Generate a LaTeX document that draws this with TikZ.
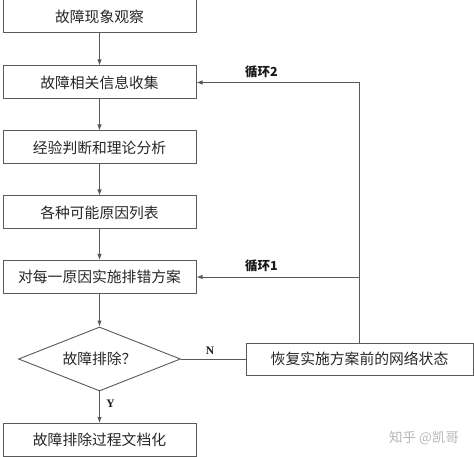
\documentclass[tikz,border=0pt]{standalone}
\usepackage{fontspec}
\setmainfont{Noto Sans CJK SC}
\newfontfamily\latinserif{Liberation Serif}
\usetikzlibrary{shapes.geometric,arrows.meta}
\tikzset{
  box/.style={draw=black!65, line width=1pt, minimum width=193pt, minimum height=33pt, inner sep=0pt, text=black!85, font=\fontsize{14.8}{15}\selectfont},
  decision/.style={diamond, draw=black!65, line width=0.9pt, minimum width=162pt, minimum height=64pt, aspect=2.53, inner sep=0pt, text=black!85, font=\fontsize{14.8}{15}\selectfont},
  conn/.style={draw=black!65, line width=0.9pt},
  arr/.style={conn, -{Latex[length=6pt,width=4.5pt]}},
  lbl/.style={font=\fontsize{12.5}{13}\selectfont\bfseries, text=black!90},
  yn/.style={font=\fontsize{11.5}{12}\selectfont\latinserif\bfseries, text=black!90}
}
\begin{document}
\begin{tikzpicture}[x=1pt,y=-1pt]
\useasboundingbox (0,0) rectangle (474,457);
\node[box] (b1) at (99.5,16.5) {故障现象观察};
\node[box] (b2) at (99.5,82.5) {故障相关信息收集};
\node[box] (b3) at (99.5,147.5) {经验判断和理论分析};
\node[box] (b4) at (99.5,212.5) {各种可能原因列表};
\node[box] (b5) at (99.5,277) {对每一原因实施排错方案};
\node[decision] (d) at (99.5,359) {故障排除？};
\node[box] (b6) at (99.5,440) {故障排除过程文档化};
\node[box, minimum width=227pt, minimum height=32pt] (r) at (359.5,359) {恢复实施方案前的网络状态};
\coordinate (c2) at (359,82.5);
\coordinate (c1) at (359,277);
\draw[arr] (b1) -- (b2);
\draw[arr] (b2) -- (b3);
\draw[arr] (b3) -- (b4);
\draw[arr] (b4) -- (b5);
\draw[arr] (b5) -- (d);
\draw[arr] (d) -- node[yn, right, pos=0.4, xshift=3pt] {Y} (b6);
\draw[conn] (d.east) -- node[yn, above, pos=0.45, yshift=1pt] {N} (r.west);
\draw[conn] (r.north -| c2) -- (c2);
\draw[arr] (c2) -- node[lbl, above, pos=0.6, yshift=1pt] {循环2} (b2.east);
\draw[arr] (c1) -- node[lbl, above, pos=0.6, yshift=1pt] {循环1} (b5.east);
\node[text=black!28, font=\fontsize{13.5}{14}\selectfont, anchor=center] (wm) at (424,438) {知乎 @凯哥};
\end{tikzpicture}
\end{document}
